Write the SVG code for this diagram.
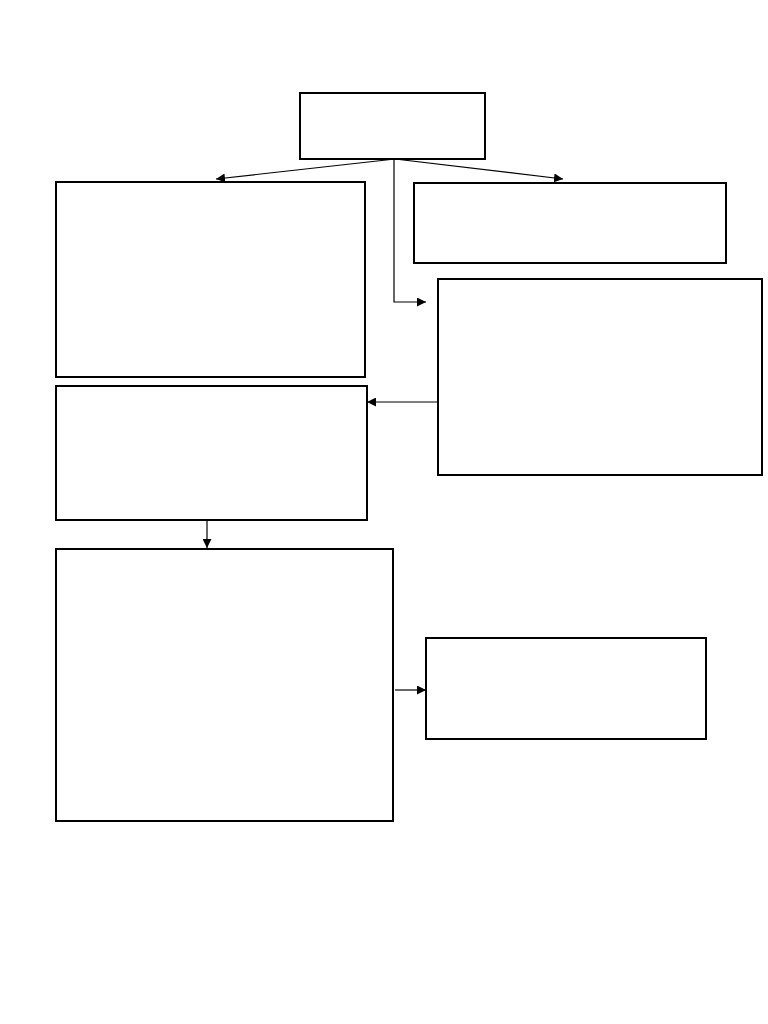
<svg xmlns="http://www.w3.org/2000/svg" width="768" height="1024" viewBox="0 0 768 1024">
<style>
.box{fill:#fff;stroke:#000;stroke-width:2}
.con{fill:none;stroke:#000;stroke-width:1.2}
</style>
<defs>
<marker id="ah" viewBox="0 0 10 10" refX="10" refY="5" markerWidth="9" markerHeight="9" markerUnits="userSpaceOnUse" orient="auto">
<path d="M0,0 L10,5 L0,10 z" fill="#000"/>
</marker>
</defs>
<rect width="768" height="1024" fill="#fff"/>
<g id="connectors">
<path class="con" d="M395,159 L216,179" marker-end="url(#ah)"/>
<path class="con" d="M395,159 L563,179" marker-end="url(#ah)"/>
<path class="con" d="M394,159 L394,302 L426,302" marker-end="url(#ah)"/>
<path class="con" d="M438,402 L367,402" marker-end="url(#ah)"/>
<path class="con" d="M207,520 L207,548" marker-end="url(#ah)"/>
<path class="con" d="M395,690 L426,690" marker-end="url(#ah)"/>
</g>
<g id="top"><rect class="box" x="300" y="93" width="185" height="66"/></g>
<g id="left1"><rect class="box" x="56" y="182" width="309" height="195"/></g>
<g id="right1"><rect class="box" x="414" y="183" width="312" height="80"/></g>
<g id="right2"><rect class="box" x="438" y="279" width="324" height="196"/></g>
<g id="left2"><rect class="box" x="56" y="386" width="311" height="134"/></g>
<g id="big"><rect class="box" x="56" y="549" width="337" height="272"/></g>
<g id="small"><rect class="box" x="426" y="638" width="280" height="101"/></g>
</svg>
